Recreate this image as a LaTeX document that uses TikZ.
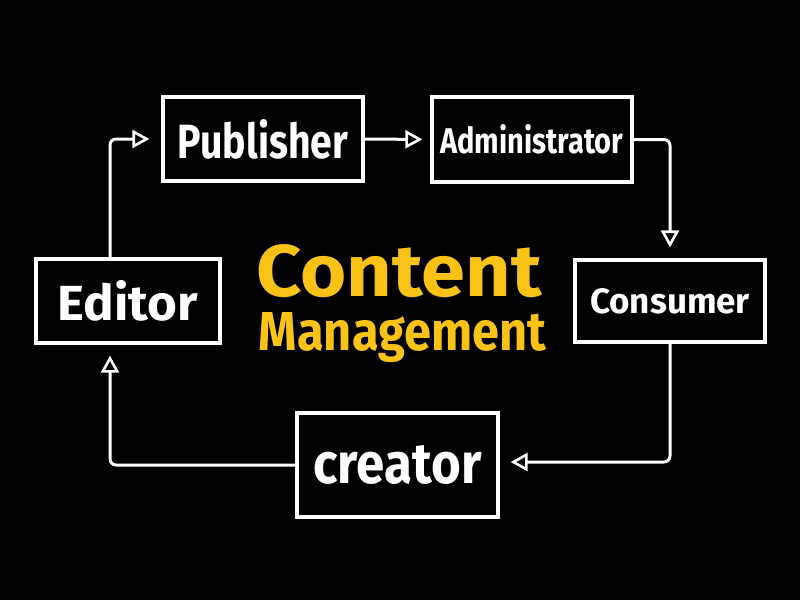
\documentclass[tikz,border=0pt]{standalone}
\usepackage{fontspec}
\setmainfont{Fira Sans}
\usepackage{graphicx}
\usetikzlibrary{arrows.meta}
\definecolor{titleyellow}{RGB}{248,194,22}
\newcommand{\fitt}[3]{\resizebox{#1pt}{#2pt}{\bfseries #3}}
\tikzset{
  boxnode/.style={draw=white, line width=3.2pt, fill=black, text=white, inner sep=0pt},
  flow/.style={draw=white, line width=3pt, rounded corners=6pt,
    -{Triangle[open, length=17pt, width=18pt, line width=2.6pt]}},
  titletext/.style={text=titleyellow, inner sep=0pt, align=center,
    font=\fontsize{10pt}{54pt}\selectfont}
}
\begin{document}
\begin{tikzpicture}[x=1pt, y=-1pt]
\fill[black] (0,0) rectangle (800,600);
\useasboundingbox (0,0) rectangle (800,600);

\node[boxnode, minimum width=200pt, minimum height=84pt] (pub) at (263,139) {\fitt{170}{39}{Publisher}};
\node[boxnode, minimum width=200pt, minimum height=85pt] (adm) at (532,139.5) {\fitt{183}{29}{Administrator}};
\node[boxnode, minimum width=184pt, minimum height=84pt] (edi) at (128,301) {\fitt{140}{40}{Editor}};
\node[boxnode, minimum width=190pt, minimum height=82pt] (con) at (670,301) {\fitt{160}{25}{Consumer}};
\node[boxnode, minimum width=201pt, minimum height=104pt] (cre) at (397.5,465) {\fitt{168}{38}{creator}};

\node[titletext, anchor=north] (ttl) at (399,244) {\fitt{285}{52}{Content}\\\hspace*{7pt}\fitt{287}{38}{Management}};

\draw[flow, shorten >=12pt] ([xshift=-18pt]edi.north) |- (pub.west);
\draw[flow, shorten >=8pt] (pub.east) -- (adm.west);
\draw[flow, shorten >=11pt] (adm.east) -| (con.north);
\draw[flow, shorten >=11pt] (con.south) |- ([yshift=3pt]cre.east);
\draw[flow, shorten >=11pt] (cre.west) -| ([xshift=-18pt]edi.south);
\end{tikzpicture}
\end{document}
